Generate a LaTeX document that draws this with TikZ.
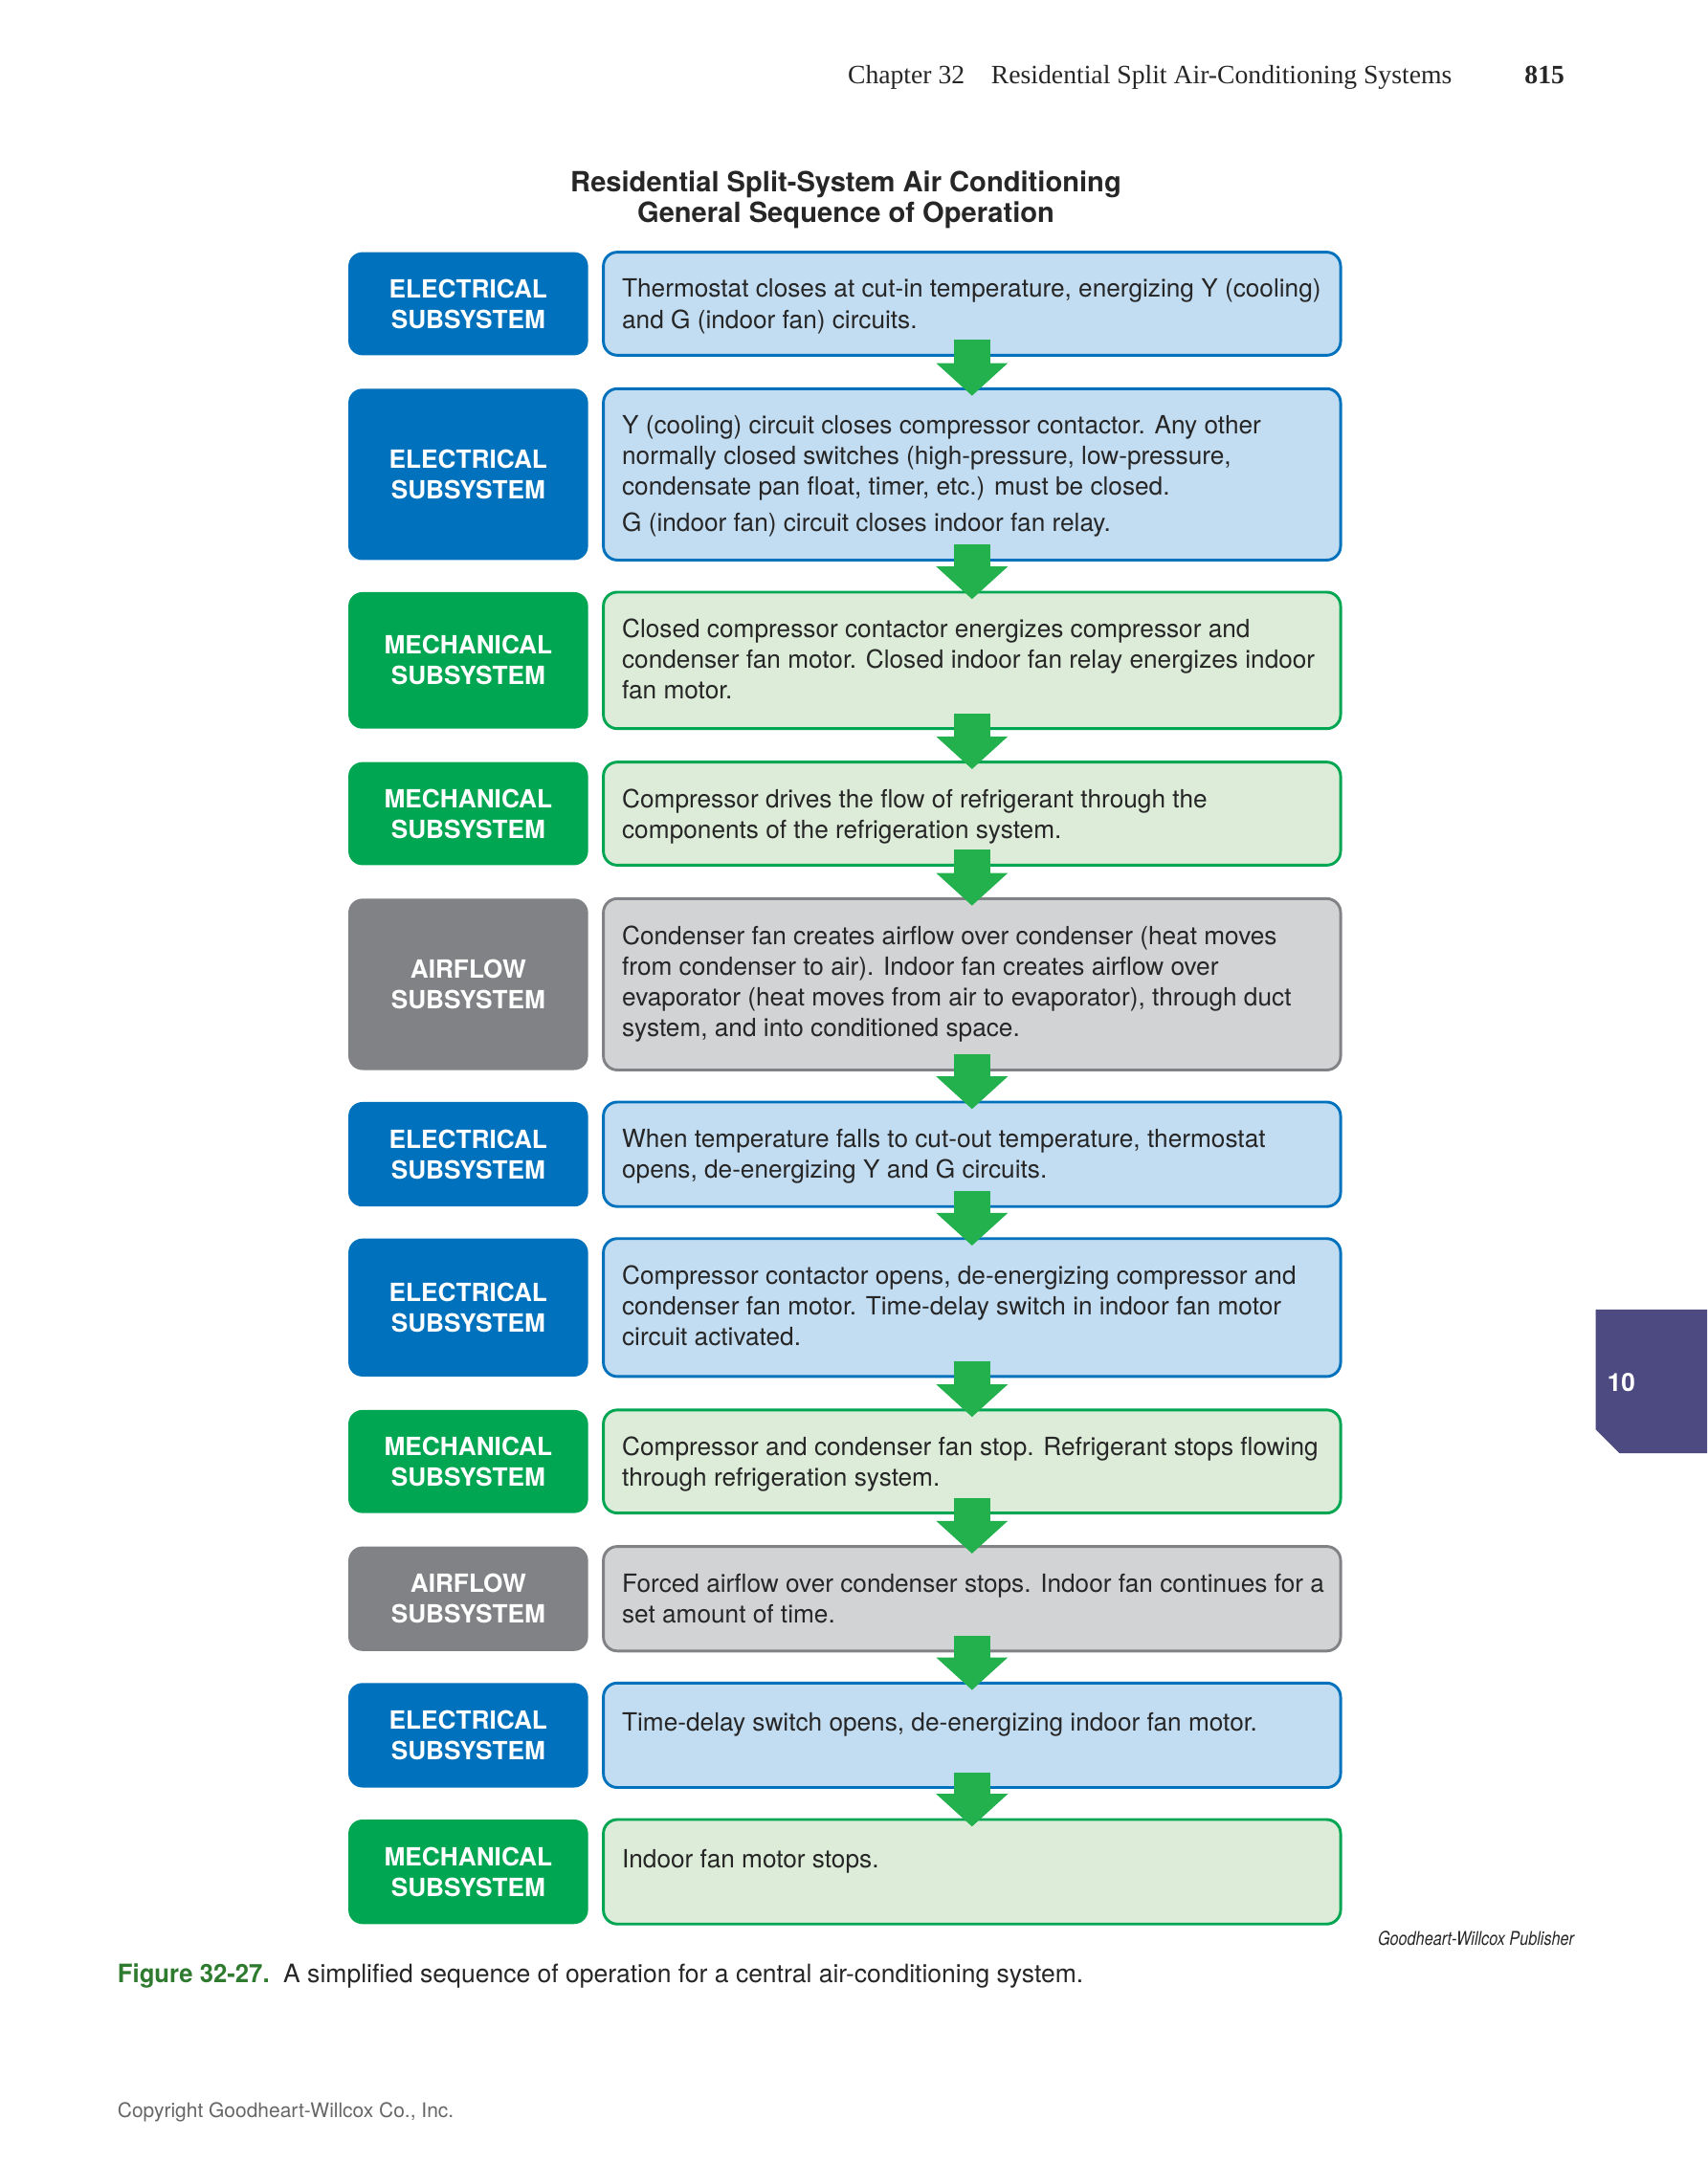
\documentclass[tikz,border=0pt]{standalone}
\usepackage{fontspec}
\setmainfont{TeX Gyre Heros}
\newfontfamily\headfont{Liberation Serif}
\newfontfamily\credfont[FakeStretch=0.82]{TeX Gyre Heros}
\newfontfamily\figfont[FakeStretch=0.97]{TeX Gyre Heros}
\usetikzlibrary{arrows.meta,calc}
\usepackage{xcolor}
\definecolor{elecblue}{RGB}{0,113,188}
\definecolor{eleclight}{RGB}{194,220,241}
\definecolor{mechgreen}{RGB}{0,166,81}
\definecolor{mechlight}{RGB}{220,236,216}
\definecolor{airgray}{RGB}{128,130,133}
\definecolor{airlight}{RGB}{209,211,212}
\definecolor{arrowgreen}{RGB}{34,177,76}
\definecolor{capgreen}{RGB}{46,122,46}
\definecolor{tabpurple}{RGB}{76,74,128}

\begin{document}
\begin{tikzpicture}[x=0.5pt,y=0.5pt,yscale=-1,
    labelbox/.style={rectangle, rounded corners=5pt, minimum width=86pt, align=center, text=white, inner sep=0pt,
        font=\fontsize{9}{11}\selectfont\bfseries},
    elec/.style={labelbox, fill=elecblue},
    mech/.style={labelbox, fill=mechgreen},
    air/.style={labelbox, fill=airgray},
    stepbox/.style={rectangle, rounded corners=5pt, minimum width=264.5pt, line width=1pt, inner sep=0pt},
    elecstep/.style={stepbox, fill=eleclight, draw=elecblue},
    mechstep/.style={stepbox, fill=mechlight, draw=mechgreen},
    airstep/.style={stepbox, fill=airlight, draw=airgray},
    desc/.style={anchor=north west, align=left, inner sep=0pt, text=black!85, font=\fontsize{9}{11}\selectfont,
        execute at begin node=\strut},
    flow/.style={draw=arrowgreen, line width=13pt, -{Triangle[length=11.7pt,width=25.75pt,line width=0pt]}}]

    \useasboundingbox (0,0) rectangle (1225,1567.6);

    \draw (608,60) node [anchor=base west, inner sep=0pt, font=\headfont\fontsize{9.5}{11}\selectfont, text=black!85] (chap) {Chapter 32\quad Residential Split Air-Conditioning Systems};
    \draw (1123,60) node [anchor=base east, inner sep=0pt, font=\headfont\fontsize{9.5}{11}\selectfont\bfseries, text=black!85] (page) {815};

    \draw (607,143.5) node [align=center, inner sep=0pt, font=\fontsize{10}{11}\selectfont\bfseries, text=black!85] (title) {Residential Split-System Air Conditioning\\General Sequence of Operation};

    \draw (336,218) node [elec, minimum height=37pt] (l1) {ELECTRICAL\\SUBSYSTEM};
    \draw (336,340.5) node [elec, minimum height=61.5pt] (l2) {ELECTRICAL\\SUBSYSTEM};
    \draw (336,474) node [mech, minimum height=49pt] (l3) {MECHANICAL\\SUBSYSTEM};
    \draw (336,584) node [mech, minimum height=37pt] (l4) {MECHANICAL\\SUBSYSTEM};
    \draw (336,706.5) node [air, minimum height=61.5pt] (l5) {AIRFLOW\\SUBSYSTEM};
    \draw (336,828.5) node [elec, minimum height=37.5pt] (l6) {ELECTRICAL\\SUBSYSTEM};
    \draw (336,938.5) node [elec, minimum height=49.5pt] (l7) {ELECTRICAL\\SUBSYSTEM};
    \draw (336,1049) node [mech, minimum height=37pt] (l8) {MECHANICAL\\SUBSYSTEM};
    \draw (336,1147.5) node [air, minimum height=37.5pt] (l9) {AIRFLOW\\SUBSYSTEM};
    \draw (336,1245.5) node [elec, minimum height=37.5pt] (l10) {ELECTRICAL\\SUBSYSTEM};
    \draw (336,1343.5) node [mech, minimum height=37.5pt] (l11) {MECHANICAL\\SUBSYSTEM};

    \draw (697.5,218) node [elecstep, minimum height=37pt] (s1) {};
    \draw (697.5,340.5) node [elecstep, minimum height=61.5pt] (s2) {};
    \draw (697.5,474) node [mechstep, minimum height=49pt] (s3) {};
    \draw (697.5,584) node [mechstep, minimum height=37pt] (s4) {};
    \draw (697.5,706.5) node [airstep, minimum height=61.5pt] (s5) {};
    \draw (697.5,828.5) node [elecstep, minimum height=37.5pt] (s6) {};
    \draw (697.5,938.5) node [elecstep, minimum height=49.5pt] (s7) {};
    \draw (697.5,1049) node [mechstep, minimum height=37pt] (s8) {};
    \draw (697.5,1147.5) node [airstep, minimum height=37.5pt] (s9) {};
    \draw (697.5,1245.5) node [elecstep, minimum height=37.5pt] (s10) {};
    \draw (697.5,1343.5) node [mechstep, minimum height=37.5pt] (s11) {};

    \draw (446,200) node [desc] (d1) {Thermostat closes at cut-in temperature, energizing Y (cooling)\\and G (indoor fan) circuits.};
    \draw (446,298) node [desc] (d2) {Y (cooling) circuit closes compressor contactor. Any other\\normally closed switches (high-pressure, low-pressure,\\condensate pan float, timer, etc.) must be closed.\\[2pt]G (indoor fan) circuit closes indoor fan relay.};
    \draw (446,444) node [desc] (d3) {Closed compressor contactor energizes compressor and\\condenser fan motor. Closed indoor fan relay energizes indoor\\fan motor.};
    \draw (446,566) node [desc] (d4) {Compressor drives the flow of refrigerant through the\\components of the refrigeration system.};
    \draw (446,664) node [desc] (d5) {Condenser fan creates airflow over condenser (heat moves\\from condenser to air). Indoor fan creates airflow over\\evaporator (heat moves from air to evaporator), through duct\\system, and into conditioned space.};
    \draw (446,810) node [desc] (d6) {When temperature falls to cut-out temperature, thermostat\\opens, de-energizing Y and G circuits.};
    \draw (446,908) node [desc] (d7) {Compressor contactor opens, de-energizing compressor and\\condenser fan motor. Time-delay switch in indoor fan motor\\circuit activated.};
    \draw (446,1031) node [desc] (d8) {Compressor and condenser fan stop. Refrigerant stops flowing\\through refrigeration system.};
    \draw (446,1129) node [desc] (d9) {Forced airflow over condenser stops. Indoor fan continues for a\\set amount of time.};
    \draw (446,1227) node [desc] (d10) {Time-delay switch opens, de-energizing indoor fan motor.};
    \draw (446,1325) node [desc] (d11) {Indoor fan motor stops.};

    \draw [flow] ($(s1.south)+(0,-12)$) -- ($(s2.north)+(0,6)$);
    \draw [flow] ($(s2.south)+(0,-12)$) -- ($(s3.north)+(0,6)$);
    \draw [flow] ($(s3.south)+(0,-12)$) -- ($(s4.north)+(0,6)$);
    \draw [flow] ($(s4.south)+(0,-12)$) -- ($(s5.north)+(0,6)$);
    \draw [flow] ($(s5.south)+(0,-12)$) -- ($(s6.north)+(0,6)$);
    \draw [flow] ($(s6.south)+(0,-12)$) -- ($(s7.north)+(0,6)$);
    \draw [flow] ($(s7.south)+(0,-12)$) -- ($(s8.north)+(0,6)$);
    \draw [flow] ($(s8.south)+(0,-12)$) -- ($(s9.north)+(0,6)$);
    \draw [flow] ($(s9.south)+(0,-12)$) -- ($(s10.north)+(0,6)$);
    \draw [flow] ($(s10.south)+(0,-12)$) -- ($(s11.north)+(0,6)$);

    \draw (1130,1396) node [anchor=base east, inner sep=0pt, font=\credfont\itshape\fontsize{6.8}{8}\selectfont, text=black!85] (credit) {Goodheart-Willcox Publisher};
    \draw (84,1423) node [anchor=base west, inner sep=0pt, font=\fontsize{9.1}{11}\selectfont, text=black!85] (caption) {{\figfont\color{capgreen}\bfseries Figure 32-27.}\hspace{5pt}A simplified sequence of operation for a central air-conditioning system.};
    \draw (84,1520) node [anchor=base west, inner sep=0pt, font=\fontsize{7.2}{8}\selectfont, text=black!60] (copy) {Copyright Goodheart-Willcox Co., Inc.};

    \fill [tabpurple] (1145,940) -- (1225,940) -- (1225,1043) -- (1162,1043) -- (1145,1026) -- cycle;
    \draw (1153,992) node [anchor=west, inner sep=0pt, text=white, font=\fontsize{9}{11}\selectfont\bfseries] (tab) {10};

\end{tikzpicture}
\end{document}
